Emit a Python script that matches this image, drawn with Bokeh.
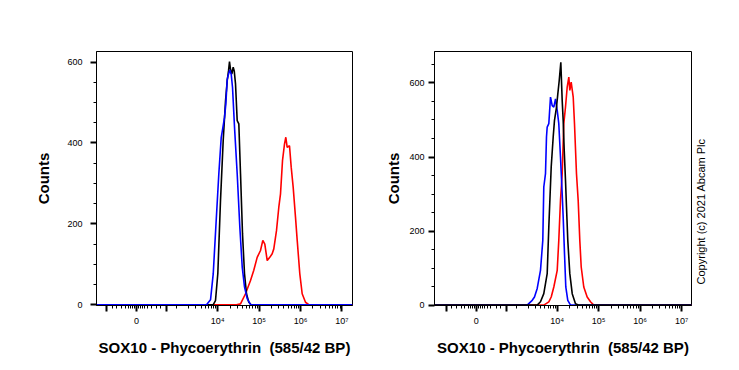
import numpy as np
from math import pi
from bokeh.plotting import figure
from bokeh.layouts import row
from bokeh.models import FixedTicker, CustomJSTickFormatter, Range1d
from bokeh.core.properties import value
from bokeh.embed import file_html
from bokeh.resources import INLINE

# ---------------- data (log10 fluorescence intensity, counts) ----------------
p1_blue_log = [3.732, 3.829, 3.894, 3.957, 4.029, 4.087, 4.126, 4.167, 4.198, 4.232, 4.263,
               4.294, 4.328, 4.360, 4.408, 4.473, 4.536, 4.594, 4.649, 4.714, 4.794]
p1_blue_cnt = [0, 12, 76, 192, 323, 413, 437, 463, 496, 557, 570,
               580, 570, 537, 439, 323, 192, 93, 44, 15, 0]

p1_black_log = [3.894, 3.949, 4.005, 4.070, 4.135, 4.191, 4.232, 4.263, 4.287, 4.311, 4.343,
                4.376, 4.401, 4.432, 4.473, 4.512, 4.553, 4.601, 4.649, 4.697, 4.753, 4.811]
p1_black_cnt = [0, 10, 77, 258, 406, 504, 554, 578, 601, 582, 570,
                587, 578, 546, 455, 447, 323, 175, 77, 27, 6, 0]

p1_red_log = [4.456, 4.553, 4.673, 4.794, 4.873, 4.955, 5.035, 5.091, 5.139, 5.197, 5.259,
              5.317, 5.356, 5.421, 5.477, 5.518, 5.566, 5.614, 5.646, 5.679, 5.735, 5.776,
              5.824, 5.880, 5.921, 5.983, 6.041, 6.121, 6.200]
p1_red_cnt = [0, 2, 27, 60, 85, 117, 134, 159, 150, 109, 117,
              126, 138, 183, 241, 274, 356, 397, 414, 389, 393, 340,
              290, 216, 159, 77, 27, 6, 0]

p2_blue_log = [3.272, 3.394, 3.449, 3.515, 3.594, 3.650, 3.674, 3.715, 3.739, 3.756, 3.795,
               3.836, 3.877, 3.916, 3.957, 3.998, 4.036, 4.077, 4.118, 4.142, 4.174, 4.205,
               4.253, 4.319]
p2_blue_cnt = [0, 13, 22, 45, 94, 175, 319, 355, 454, 481, 490,
               562, 539, 535, 557, 526, 490, 400, 301, 238, 139, 49,
               13, 0]

p2_black_log = [3.515, 3.594, 3.674, 3.756, 3.795, 3.853, 3.901, 3.932, 3.981, 4.012, 4.046,
                4.085, 4.118, 4.142, 4.167, 4.198, 4.222, 4.253, 4.302, 4.360, 4.439, 4.519]
p2_black_cnt = [0, 9, 31, 85, 211, 373, 454, 499, 535, 570, 606,
                656, 553, 499, 418, 337, 265, 175, 85, 31, 4, 0]

p2_red_log = [3.674, 3.795, 3.853, 3.916, 3.998, 4.036, 4.077, 4.118, 4.157, 4.198, 4.239,
              4.278, 4.302, 4.335, 4.384, 4.415, 4.463, 4.504, 4.543, 4.577, 4.639, 4.721,
              4.801, 4.881]
p2_red_cnt = [0, 9, 22, 49, 94, 175, 283, 355, 490, 535, 589,
              616, 580, 602, 562, 490, 355, 283, 175, 103, 49, 22,
              9, 0]

# axis ranges (intensity, counts)
p1_x_limits = [-1010, 1.8e7]
p2_x_limits = [-1110, 1.73e7]
p1_y_limits = [-2, 626]
p2_y_limits = [-1, 685]

x_major_values = [-560, 0, 560, 1e4, 1e5, 1e6, 1e7]
x_minor_values = ([s * m for s in (-1, 1) for m in (25, 50, 75, 100, 150, 200, 300, 400)]
                  + [k * 10.0 ** n for n in (3, 4, 5, 6) for k in range(1, 10)])
y_major_values = [0, 200, 400, 600]
y_minor_values = [50, 100, 150, 250, 300, 350, 450, 500, 550, 650]

x_label = "SOX10 - Phycoerythrin \u00a0(585/42 BP)"
y_label = "Counts"
copyright_text = "Copyright (c) 2021 Abcam Plc"

# ---------------- display transform (biexponential-like) ----------------
A_SCALE = 18.0
C_LIN = 221.0


def disp(v):
    return A_SCALE * np.arcsinh(np.asarray(v, dtype=float) / C_LIN)


FONT = "Liberation Sans"
TOTAL_H = 362

fmt_code = r"""
if (Math.abs(tick) < 0.01) return "0";
const v = C * Math.sinh(tick / A);
if (v < 5000) return "";
const e = Math.round(Math.log10(v));
const sup = ["\u2070","\u00b9","\u00b2","\u00b3","\u2074","\u2075","\u2076","\u2077","\u2078","\u2079"];
return "10" + String(e).split("").map(c => sup[parseInt(c)]).join("");
"""


def make_fig(xlim, ylim, series, left_border, right_border, frame_w, ylab_standoff, ytick_standoff):
    xr = disp(xlim)
    p = figure(frame_width=frame_w, frame_height=254,
               x_range=Range1d(xr[0], xr[1]), y_range=Range1d(*ylim),
               output_backend="svg", toolbar_location=None,
               min_border_left=left_border, min_border_right=right_border,
               min_border_top=51, min_border_bottom=57)
    p.grid.visible = False
    p.outline_line_color = "black"
    p.outline_line_width = 1
    p.background_fill_color = "white"
    p.border_fill_color = "white"

    for logs, cnts, col in series:
        xs = [xr[0]] + list(disp(10.0 ** np.array(logs))) + [xr[1]]
        ys = [0] + list(cnts) + [0]
        p.line(xs, ys, line_color=col, line_width=1.6)

    xa = p.xaxis[0]
    xa.ticker = FixedTicker(ticks=list(disp(x_major_values)), minor_ticks=list(disp(x_minor_values)))
    xa.formatter = CustomJSTickFormatter(args=dict(A=A_SCALE, C=C_LIN), code=fmt_code)
    ya = p.yaxis[0]
    ya.ticker = FixedTicker(ticks=y_major_values, minor_ticks=y_minor_values)

    for ax in (xa, ya):
        ax.axis_line_color = "black"
        ax.major_tick_line_color = "black"
        ax.minor_tick_line_color = "black"
        ax.major_tick_line_width = 2
        ax.minor_tick_line_width = 1
        ax.major_tick_in = 0
        ax.major_tick_out = 6
        ax.minor_tick_in = 0
        ax.minor_tick_out = 3
        ax.major_label_text_font = FONT
        ax.major_label_text_font_size = "9px"
        ax.major_label_text_color = "black"
        ax.axis_label_text_font = FONT
        ax.axis_label_text_font_style = "bold"
        ax.axis_label_text_font_size = "15px"
        ax.axis_label_text_color = "black"
    xa.axis_label = x_label
    xa.major_label_standoff = 4
    xa.axis_label_standoff = 10
    ya.axis_label = y_label
    ya.major_label_standoff = ytick_standoff
    ya.axis_label_standoff = ylab_standoff
    return p


series1 = [(p1_red_log, p1_red_cnt, "#ff0000"),
           (p1_black_log, p1_black_cnt, "black"),
           (p1_blue_log, p1_blue_cnt, "#0000ff")]
series2 = [(p2_red_log, p2_red_cnt, "#ff0000"),
           (p2_blue_log, p2_blue_cnt, "#0000ff"),
           (p2_black_log, p2_black_cnt, "black")]

p1 = make_fig(p1_x_limits, p1_y_limits, series1, 96, 23, 256, 12, 8)
p2 = make_fig(p2_x_limits, p2_y_limits, series2, 59, 1, 257, 4, 4)

# narrow strip holding the vertical copyright note
p3 = figure(width=40, height=TOTAL_H, x_range=Range1d(-10, 30), y_range=Range1d(0, TOTAL_H),
            output_backend="svg", toolbar_location=None,
            min_border_left=0, min_border_right=0, min_border_top=0, min_border_bottom=0)
p3.axis.visible = False
p3.grid.visible = False
p3.outline_line_color = None
p3.background_fill_color = "white"
p3.border_fill_color = "white"
p3.text(x=[-2], y=[30], text=[copyright_text], angle=pi / 2,
        text_align="left", text_baseline="middle", text_font=value(FONT),
        text_font_size="11px", text_color="black")

layout = row(p1, p2, p3, spacing=0)
open("out.html", "w", encoding="utf-8").write(file_html(layout, INLINE))
